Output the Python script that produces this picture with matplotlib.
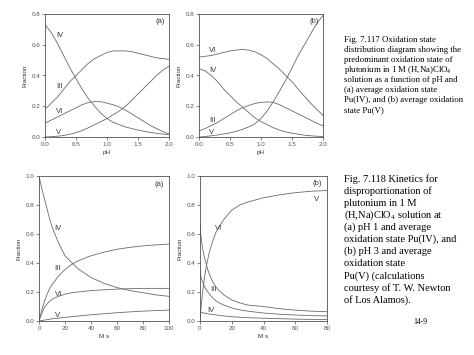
import matplotlib
matplotlib.use("Agg")
import matplotlib.pyplot as plt

plt.rcParams['font.family'] = ['Liberation Sans', 'DejaVu Sans']
plt.rcParams['mathtext.fontset'] = 'stix'

W, H = 474, 355

# --- Fig. 7.117: distribution vs pH ---
ph = [0.0, 0.1, 0.2, 0.3, 0.4, 0.5, 0.6, 0.7, 0.8, 0.9, 1.0,
      1.1, 1.2, 1.3, 1.4, 1.5, 1.6, 1.7, 1.8, 1.9, 2.0]

a_iv = [0.73, 0.68, 0.61, 0.53, 0.45, 0.38, 0.31, 0.25, 0.20, 0.155, 0.12,
        0.095, 0.08, 0.065, 0.055, 0.045, 0.037, 0.03, 0.024, 0.019, 0.015]
a_iii = [0.18, 0.22, 0.26, 0.31, 0.36, 0.40, 0.44, 0.48, 0.51, 0.53, 0.55,
         0.56, 0.56, 0.56, 0.555, 0.545, 0.535, 0.525, 0.515, 0.51, 0.505]
a_vi = [0.09, 0.11, 0.13, 0.15, 0.17, 0.19, 0.21, 0.225, 0.23, 0.23, 0.22,
        0.21, 0.195, 0.175, 0.15, 0.125, 0.10, 0.075, 0.055, 0.035, 0.02]
a_v = [0.0, 0.002, 0.005, 0.01, 0.018, 0.028, 0.042, 0.06, 0.08, 0.10, 0.12,
       0.145, 0.17, 0.20, 0.24, 0.28, 0.32, 0.36, 0.40, 0.435, 0.46]

b_vi = [0.52, 0.525, 0.53, 0.54, 0.55, 0.56, 0.565, 0.57, 0.565, 0.555, 0.535,
        0.51, 0.475, 0.44, 0.40, 0.36, 0.31, 0.265, 0.22, 0.18, 0.14]
b_iv = [0.445, 0.43, 0.40, 0.36, 0.31, 0.27, 0.23, 0.195, 0.16, 0.125, 0.10,
        0.08, 0.06, 0.045, 0.033, 0.025, 0.018, 0.012, 0.008, 0.005, 0.003]
b_iii = [0.04, 0.055, 0.075, 0.095, 0.12, 0.145, 0.17, 0.19, 0.205, 0.218, 0.225,
         0.228, 0.225, 0.21, 0.19, 0.17, 0.15, 0.13, 0.11, 0.09, 0.072]
b_v = [0.0, 0.003, 0.008, 0.013, 0.02, 0.027, 0.037, 0.05, 0.065, 0.085, 0.12,
       0.17, 0.23, 0.30, 0.37, 0.45, 0.53, 0.60, 0.67, 0.74, 0.79]

# --- Fig. 7.118: kinetics vs M s ---
ta = [0, 2, 4, 6, 8, 10, 15, 20, 25, 30, 40, 50, 60, 70, 80, 90, 100]
ka_iv = [1.0, 0.92, 0.85, 0.78, 0.71, 0.65, 0.54, 0.45, 0.405, 0.36, 0.30,
         0.26, 0.23, 0.21, 0.195, 0.18, 0.17]
ka_iii = [0.0, 0.07, 0.13, 0.18, 0.22, 0.25, 0.31, 0.355, 0.39, 0.415, 0.45,
          0.475, 0.495, 0.508, 0.518, 0.525, 0.53]
ka_vi = [0.0, 0.05, 0.09, 0.115, 0.135, 0.15, 0.17, 0.185, 0.195, 0.20, 0.21,
         0.215, 0.22, 0.223, 0.225, 0.225, 0.225]
ka_v = [0.0, 0.003, 0.006, 0.009, 0.012, 0.015, 0.02, 0.025, 0.03, 0.034, 0.043,
        0.05, 0.057, 0.063, 0.068, 0.072, 0.075]

tb = [0, 0.5, 1, 2, 3, 4, 5, 6, 8, 10, 12, 15, 20, 25, 30, 40, 50, 60, 70, 80]
kb_v = [0.0, 0.07, 0.13, 0.23, 0.31, 0.38, 0.43, 0.48, 0.55, 0.61, 0.65, 0.70,
        0.765, 0.80, 0.82, 0.85, 0.87, 0.885, 0.895, 0.90]
kb_vi = [0.66, 0.60, 0.55, 0.48, 0.43, 0.39, 0.35, 0.32, 0.27, 0.235, 0.21, 0.18,
         0.145, 0.125, 0.11, 0.10, 0.085, 0.075, 0.068, 0.064]
kb_iii = [0.34, 0.31, 0.29, 0.26, 0.235, 0.215, 0.20, 0.185, 0.16, 0.14, 0.125,
          0.11, 0.09, 0.077, 0.068, 0.055, 0.047, 0.041, 0.037, 0.035]
kb_iv = [0.06, 0.06, 0.058, 0.056, 0.054, 0.052, 0.05, 0.048, 0.045, 0.042, 0.039,
         0.035, 0.03, 0.026, 0.023, 0.019, 0.016, 0.013, 0.011, 0.01]

caption_117 = ["Fig. 7.117 Oxidation state",
               "distribution diagram showing the",
               "predominant oxidation state of",
               "plutonium in 1 M (H,Na)ClO$_4$",
               "solution as a function of pH and",
               "(a) average oxidation state",
               "Pu(IV), and (b) average oxidation",
               "state Pu(V)"]
caption_118 = ["Fig. 7.118 Kinetics for",
               "disproportionation of",
               "plutonium in 1 M",
               "(H,Na)ClO$_4$ solution at",
               "(a) pH 1 and average",
               "oxidation state Pu(IV), and",
               "(b) pH 3 and average",
               "oxidation state",
               "Pu(V) (calculations",
               "courtesy of T. W. Newton",
               "of Los Alamos)."]

LINE = '#6a6a6a'
SPINE = '#505050'


def rect(left, top, right, bottom):
    """Pixel box -> figure fraction rect."""
    return [left / W, 1 - bottom / H, (right - left) / W, (bottom - top) / H]


def style(ax, xlabel, xlim, ylim, xticks, yticks, xfmt):
    ax.set_xlim(*xlim)
    ax.set_ylim(*ylim)
    ax.set_xticks(xticks)
    ax.set_yticks(yticks)
    ax.set_xticklabels([xfmt.format(v) for v in xticks])
    ax.set_yticklabels(['{:.1f}'.format(v) for v in yticks])
    ax.tick_params(direction='out', length=2, width=0.5, labelsize=4.5,
                   colors=SPINE, pad=1.5)
    for s in ax.spines.values():
        s.set_linewidth(0.6)
        s.set_color(SPINE)
    ax.set_xlabel(xlabel, fontsize=4.5, labelpad=2, color='#333333')
    ax.set_ylabel('Fraction', fontsize=4.5, labelpad=3, color='#333333')


def tag(ax, x, y, s, ha='left'):
    ax.text(x, y, s, fontsize=5.5, ha=ha, va='center', color='#333333')


fig = plt.figure(figsize=(W / 100, H / 100), dpi=100)

ax1 = fig.add_axes(rect(45, 14, 169, 137))
for y in (a_iv, a_iii, a_vi, a_v):
    ax1.plot(ph, y, color=LINE, lw=0.6)
style(ax1, 'pH', (0, 2), (0, 0.8), [0, 0.5, 1.0, 1.5, 2.0],
      [0, 0.2, 0.4, 0.6, 0.8], '{:.1f}')
tag(ax1, 0.18, 0.66, 'IV')
tag(ax1, 0.18, 0.33, 'III')
tag(ax1, 0.18, 0.165, 'VI')
tag(ax1, 0.18, 0.028, 'V')
tag(ax1, 1.93, 0.75, '(a)', ha='right')

ax2 = fig.add_axes(rect(199, 14, 323, 137))
for y in (b_vi, b_iv, b_iii, b_v):
    ax2.plot(ph, y, color=LINE, lw=0.6)
style(ax2, 'pH', (0, 2), (0, 0.8), [0, 0.5, 1.0, 1.5, 2.0],
      [0, 0.2, 0.4, 0.6, 0.8], '{:.1f}')
tag(ax2, 0.16, 0.565, 'VI')
tag(ax2, 0.16, 0.43, 'IV')
tag(ax2, 0.16, 0.11, 'III')
tag(ax2, 0.16, 0.028, 'V')
tag(ax2, 1.93, 0.75, '(b)', ha='right')

ax3 = fig.add_axes(rect(39, 176, 169, 321))
for y in (ka_iv, ka_iii, ka_vi, ka_v):
    ax3.plot(ta, y, color=LINE, lw=0.6)
style(ax3, 'M s', (0, 100), (0, 1.0), [0, 20, 40, 60, 80, 100],
      [0, 0.2, 0.4, 0.6, 0.8, 1.0], '{:d}')
tag(ax3, 12, 0.64, 'IV')
tag(ax3, 12, 0.36, 'III')
tag(ax3, 12, 0.18, 'VI')
tag(ax3, 12, 0.04, 'V')
tag(ax3, 96, 0.94, '(a)', ha='right')

ax4 = fig.add_axes(rect(200, 176, 327, 321))
for y in (kb_v, kb_vi, kb_iii, kb_iv):
    ax4.plot(tb, y, color=LINE, lw=0.6)
style(ax4, 'M s', (0, 80), (0, 1.0), [0, 20, 40, 60, 80],
      [0, 0.2, 0.4, 0.6, 0.8, 1.0], '{:d}')
tag(ax4, 9.5, 0.64, 'VI')
tag(ax4, 6.5, 0.22, 'III')
tag(ax4, 4.5, 0.075, 'IV')
tag(ax4, 75, 0.84, 'V', ha='right')
tag(ax4, 77, 0.95, '(b)', ha='right')

# captions, one line at a time (pixel positions)
for i, s in enumerate(caption_117):
    fig.text(344 / W, 1 - (40 + 10 * i) / H, s, fontsize=6.3,
             family=['Liberation Serif'], va='center', ha='left')
for i, s in enumerate(caption_118):
    fig.text(344 / W, 1 - (179 + 12.1 * i) / H, s, fontsize=7.5,
             family=['Liberation Serif'], va='center', ha='left')
fig.text(420 / W, 1 - 322 / H, '14-9', fontsize=5.5,
         family=['Liberation Serif'], va='center', ha='center')

fig.savefig('out.png', dpi=100)
